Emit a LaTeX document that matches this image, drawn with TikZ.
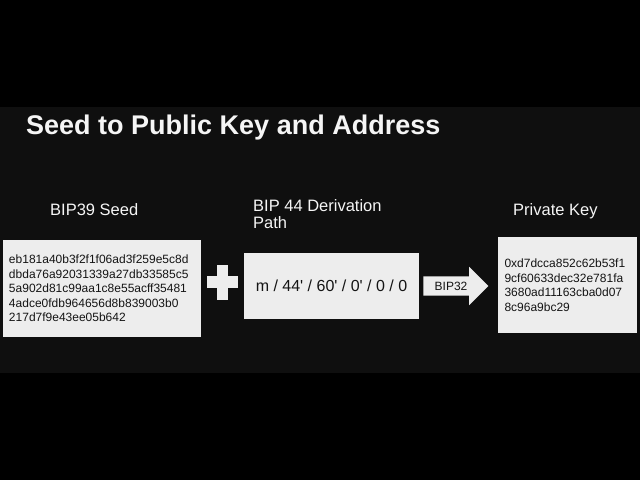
\documentclass[tikz,border=0pt]{standalone}
\usepackage{fontspec}
\setmainfont{Liberation Sans}
\usepackage{xcolor}
\definecolor{band}{rgb}{0.06, 0.06, 0.06}
\definecolor{panel}{rgb}{0.93, 0.93, 0.93}
\definecolor{ink}{rgb}{0.08, 0.08, 0.08}
\definecolor{light}{rgb}{0.96, 0.96, 0.96}
\usetikzlibrary{shapes.arrows}
\usetikzlibrary{positioning}

\begin{document}
\begin{tikzpicture}[x = 1pt, y = -1pt,
	label/.style = {anchor = base west, inner sep = 0pt, text = light, font = \fontsize{16.5}{17}\selectfont},
	hexbox/.style = {fill = panel, text = ink, align = left, inner sep = 0pt, font = \fontsize{12}{14.5}\selectfont}]

	\useasboundingbox (0,0) rectangle (640,480);
	\fill [black] 	(0,0) rectangle (640,480);
	\fill [band] 	(0,107) rectangle (640,373);

	\node [label, font = \bfseries\fontsize{27}{29}\selectfont] (title) at (26,134) {Seed to Public Key and Address};

	\node [label] (seedlbl) at (50,215) {BIP39 Seed};
	\node [label, align = left] (pathlbl) at (253,228) {BIP 44 Derivation\\Path};
	\node [label] (keylbl) at (513,215) {Private Key};

	\node [hexbox, minimum width = 198, minimum height = 97, text width = 186] (seed) at (102,288.5)
		{eb181a40b3f2f1f06ad3f259e5c8d\\dbda76a92031339a27db33585c5\\5a902d81c99aa1c8e55acff35481\\4adce0fdb964656d8b839003b0\\217d7f9e43ee05b642};

	% plus sign
	\fill [panel] 	(207,276) rectangle (238,288);
	\fill [panel] 	(217,265) rectangle (228,300);

	\node [hexbox, align = center, minimum width = 175, minimum height = 66, font = \fontsize{16}{18}\selectfont] (path) at (331.5,286)
		{m / 44\textquotesingle{} / 60\textquotesingle{} / 0\textquotesingle{} / 0 / 0};

	\node [single arrow, fill = panel, text = ink, inner xsep = 4pt, text height = 8.6pt, text depth = 0pt, inner ysep = 5.2pt,
		single arrow head extend = 9.5pt, single arrow head indent = 0pt, minimum height = 65pt,
		font = \fontsize{12}{14}\selectfont, right = 4 of path] (bip) {BIP32};

	\node [hexbox, minimum width = 139, minimum height = 96, text width = 126] (key) at (567.5,285)
		{0xd7dcca852c62b53f1\\9cf60633dec32e781fa\\3680ad11163cba0d07\\8c96a9bc29};

\end{tikzpicture}
\end{document}
